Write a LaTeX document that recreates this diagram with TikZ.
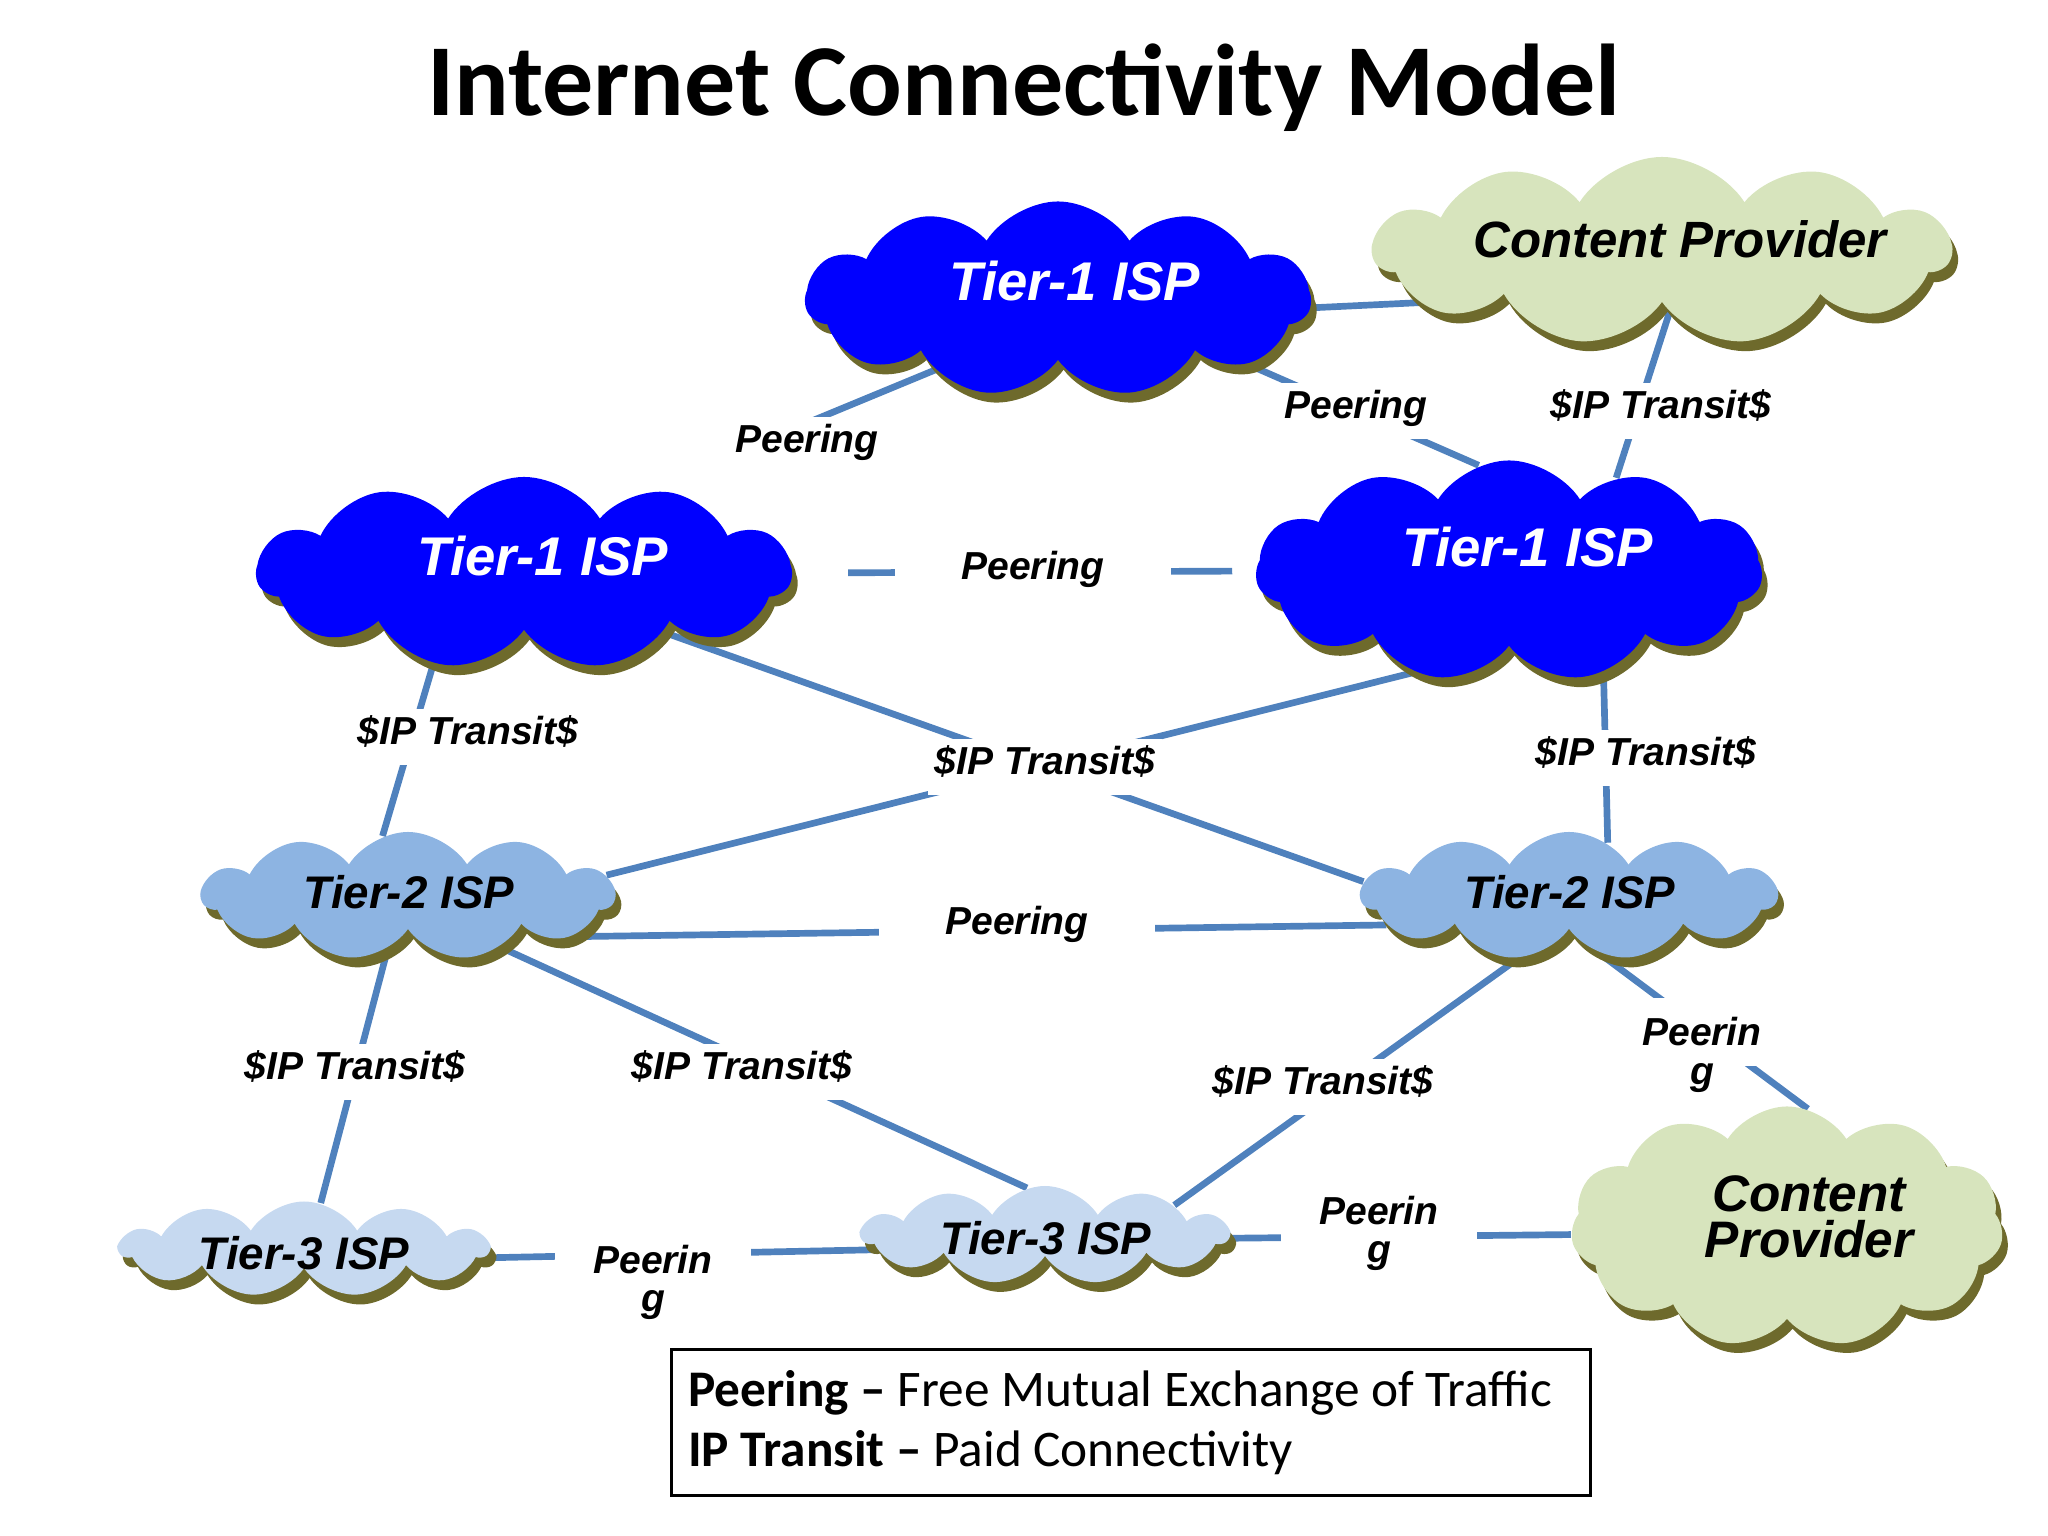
\documentclass[tikz,border=0pt]{standalone}
\usepackage{fontspec}
\setmainfont{Carlito}
\newfontfamily\arialfont{Liberation Sans}
\usetikzlibrary{shapes.symbols,shadows,backgrounds}
\definecolor{tieroneblue}{HTML}{0000FF}
\definecolor{tiertwoblue}{HTML}{8DB4E2}
\definecolor{tierthreeblue}{HTML}{C6D9F0}
\definecolor{contentgreen}{HTML}{D7E4BD}
\definecolor{cloudshadow}{HTML}{6E6A2C}
\definecolor{linkblue}{HTML}{4F81BD}

\begin{document}
\begin{tikzpicture}[
  x=0.01cm, y=-0.01cm,
  cloudbox/.style={cloud,cloud puffs=11,cloud puff arc=115,cloud ignores aspect,inner sep=0pt,
    drop shadow={shadow xshift=1.6pt,shadow yshift=-2.8pt,fill=cloudshadow,opacity=1}},
  tierone/.style={cloudbox,fill=tieroneblue},
  tiertwo/.style={cloudbox,fill=tiertwoblue},
  tierthree/.style={cloudbox,fill=tierthreeblue},
  content/.style={cloudbox,fill=contentgreen},
  cltext/.style={anchor=base,inner sep=0pt,font=\arialfont\bfseries\itshape\fontsize{15.5}{18}\selectfont},
  smalltext/.style={cltext,font=\arialfont\bfseries\itshape\fontsize{13}{15}\selectfont},
  link/.style={draw=linkblue,line width=1.9pt},
  labelfont/.style={font=\arialfont\bfseries\itshape\fontsize{11.1}{12}\selectfont},
  linklabel/.style={labelfont,anchor=base,fill=white,inner xsep=2pt,inner ysep=2.5pt,text height=0.75em,text depth=0.35em},
  peerlabel/.style={linklabel,minimum width=2.75cm},
  wraplabel/.style={linklabel,minimum width=1.96cm,inner ysep=6pt,text depth=0pt},
  wrapend/.style={labelfont,anchor=base,inner sep=0pt}
]
\useasboundingbox (0,0) rectangle (2048,1536);

\node[anchor=base,font=\bfseries\fontsize{29}{34}\selectfont] (title) at (1024,115) {Internet Connectivity Model};

\node[tierone,minimum width=5.05cm,minimum height=1.95cm] (t1top) at (1058,299) {};
\node[content,minimum width=5.77cm,minimum height=1.88cm] (cptop) at (1662,251) {};
\node[tierone,minimum width=5.34cm,minimum height=1.92cm] (t1l) at (524,573) {};
\node[tierone,minimum width=5.06cm,minimum height=2.21cm] (t1r) at (1509,571) {};
\node[tiertwo,minimum width=4.12cm,minimum height=1.28cm] (t2l) at (408,896) {};
\node[tiertwo,minimum width=4.15cm,minimum height=1.28cm] (t2r) at (1569,896) {};
\node[tierthree,minimum width=3.68cm,minimum height=0.95cm] (t3l) at (304,1249) {};
\node[tierthree,minimum width=3.66cm,minimum height=0.98cm] (t3m) at (1045,1235) {};
\node[content,minimum width=4.32cm,minimum height=2.41cm] (cpbot) at (1787,1227) {};

\node[cltext,white] (t1top-txt) at (1075,300) {Tier-1 ISP};
\node[cltext,font=\arialfont\bfseries\itshape\fontsize{14.5}{17}\selectfont] (cptop-txt) at (1680,257) {Content Provider};
\node[cltext,white] (t1l-txt) at (543,575) {Tier-1 ISP};
\node[cltext,white] (t1r-txt) at (1528,566) {Tier-1 ISP};
\node[smalltext] (t2l-txt) at (409,908) {Tier-2 ISP};
\node[smalltext] (t2r-txt) at (1570,908) {Tier-2 ISP};
\node[smalltext] (t3l-txt) at (304,1269) {Tier-3 ISP};
\node[smalltext] (t3m-txt) at (1046,1254) {Tier-3 ISP};
\node[align=center,inner sep=0pt,font=\arialfont\bfseries\itshape\fontsize{14.6}{13.2}\selectfont] (cpbot-txt) at (1809,1217) {Content\\Provider};

\begin{scope}[on background layer]
\draw[link] (t1top.-2) -- (cptop.192);
\draw[link,shorten >=0.7cm] (t1top.210) -- (t1l.36);
\draw[link] (t1top.-19) -- (t1r.106);
\draw[link] (cptop.-83) -- (t1r.41);
\draw[link,shorten <=0.55cm,shorten >=0.23cm] (t1l.east) -- (t1r.west);
\draw[link] (t1l.-23) -- (t2r.176);
\draw[link] (t1r.227) -- (t2l.6);
\draw[link] (t1l.225) -- (t2l.113);
\draw[link] (t1r.-47) -- (t2r.54);
\draw[link] (t2l.-14) -- (t2r.189);
\draw[link] (t2l.249) -- (t3l.70);
\draw[link] (t2l.-29) -- (t3m.111);
\draw[link] (t2r.231) -- (t3m.13);
\draw[link] (t2r.-62) -- (cpbot.80);
\draw[link] (t3l.-3) -- (t3m.185);
\draw[link] (t3m.-1) -- (cpbot.182);
\end{scope}

\node[peerlabel] (peer-a) at (807,452) {Peering};
\node[peerlabel] (peer-b) at (1356,418) {Peering};
\node[linklabel] (transit-a) at (1661,418) {\$IP Transit\$};
\node[peerlabel] (peer-c) at (1033,579) {Peering};
\node[linklabel] (transit-b) at (1045,774) {\$IP Transit\$};
\node[linklabel] (transit-c) at (468,744) {\$IP Transit\$};
\node[linklabel] (transit-d) at (1646,765) {\$IP Transit\$};
\node[peerlabel] (peer-d) at (1017,934) {Peering};
\node[linklabel] (transit-e) at (355,1079) {\$IP Transit\$};
\node[linklabel] (transit-f) at (742,1079) {\$IP Transit\$};
\node[linklabel] (transit-g) at (1323,1094) {\$IP Transit\$};
\node[wraplabel] (peer-e) at (1702,1045) {Peerin};
\node[wrapend] (peer-e-end) at (1702,1084) {g};
\node[wraplabel] (peer-f) at (653,1273) {Peerin};
\node[wrapend] (peer-f-end) at (653,1311) {g};
\node[wraplabel] (peer-g) at (1379,1224) {Peerin};
\node[wrapend] (peer-g-end) at (1379,1262) {g};

\node[draw,line width=0.9pt,anchor=north west,text width=8.85cm,inner xsep=4.7pt,inner ysep=6pt,align=flush left,
  font=\fontsize{14.6}{17}\selectfont] (legend) at (670,1348)
  {\textbf{Peering –} Free Mutual Exchange of Traffic\\\textbf{IP Transit –} Paid Connectivity};
\end{tikzpicture}
\end{document}
